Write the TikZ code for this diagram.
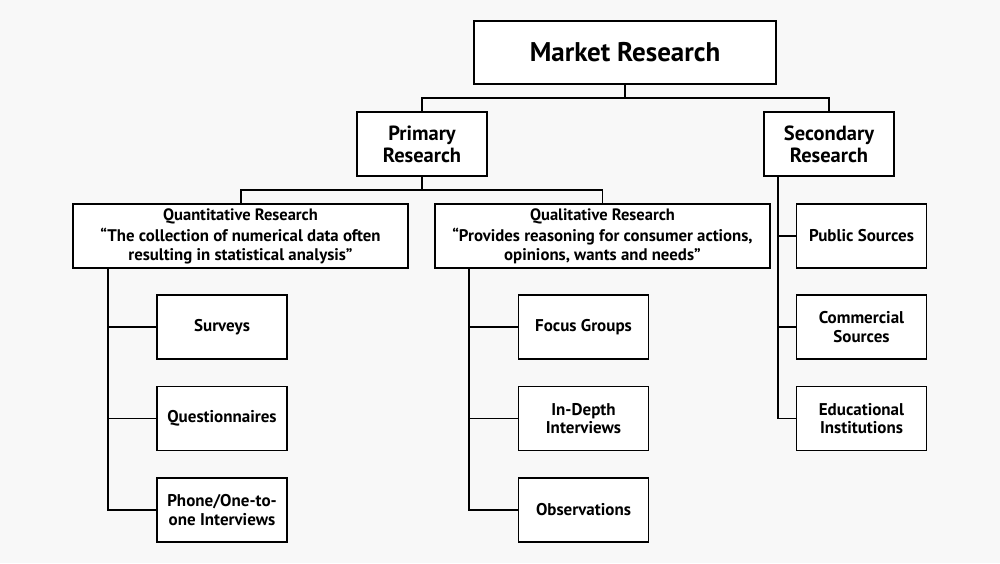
\documentclass[tikz,border=0pt]{standalone}
\usepackage{fontspec}
\setmainfont{PT Sans}
\begin{document}
\begin{tikzpicture}[x=1pt,y=-1pt,
  box/.style={draw=black,line width=1.5pt,fill=white,rectangle,inner sep=0pt,align=center,font=\bfseries},
  small/.style={box,minimum width=130pt,minimum height=64pt,font=\bfseries\fontsize{17}{18.5}\selectfont},
  mid/.style={box,minimum width=130pt,minimum height=64pt,font=\bfseries\fontsize{20.5}{22}\selectfont},
  wide/.style={box,minimum width=335pt,minimum height=64pt,font=\bfseries\fontsize{16.8}{18.5}\selectfont},
  conn/.style={draw=black,line width=1.5pt}]
\fill[fill={rgb,255:red,248;green,248;blue,248}] (0,0) rectangle (1000,563);
\useasboundingbox (0,0) rectangle (1000,563);
\node[box,minimum width=302pt,minimum height=63pt,font=\bfseries\fontsize{27}{30}\selectfont] (mr) at (625,52.5) {Market Research};
\node[mid] (pr) at (422,144) {Primary\\Research};
\node[mid] (sr) at (829,144) {Secondary\\Research};
\node[wide] (qn) at (240.5,236) {{\fontsize{16.5}{17}\selectfont Quantitative Research}\\[3pt]“The collection of numerical data often\\resulting in statistical analysis”};
\node[wide] (ql) at (602.5,236) {{\fontsize{16.5}{17}\selectfont Qualitative Research}\\[3pt]“Provides reasoning for consumer actions,\\opinions, wants and needs”};
\node[small] (s1) at (222,327) {Surveys};
\node[small] (s2) at (222,418.5) {Questionnaires};
\node[small] (s3) at (222,510) {Phone/One-to-\\one Interviews};
\node[small] (f1) at (583.5,327) {Focus Groups};
\node[small] (f2) at (583.5,418.5) {In-Depth\\Interviews};
\node[small] (f3) at (583.5,510) {Observations};
\node[small] (p1) at (861.5,236) {Public Sources};
\node[small] (p2) at (861.5,327) {Commercial\\Sources};
\node[small] (p3) at (861.5,418.5) {Educational\\Institutions};
\coordinate (j1) at (625,98);
\coordinate (j2) at (422,190);
\coordinate (qx) at (108,268);
\coordinate (lx) at (469,268);
\coordinate (sx) at (778,176);
\draw[conn] (mr.south) -- (j1);
\draw[conn] (pr.north) |- (j1) -| (sr.north);
\draw[conn] (pr.south) -- (j2);
\draw[conn] (qn.north -| 241,0) |- (j2) -| (ql.north);
\draw[conn] (qx) |- (s1.west);
\draw[conn] (qx) |- (s2.west);
\draw[conn] (qx) |- (s3.west);
\draw[conn] (lx) |- (f1.west);
\draw[conn] (lx) |- (f2.west);
\draw[conn] (lx) |- (f3.west);
\draw[conn] (sx) |- (p1.west);
\draw[conn] (sx) |- (p2.west);
\draw[conn] (sx) |- (p3.west);
\end{tikzpicture}
\end{document}
